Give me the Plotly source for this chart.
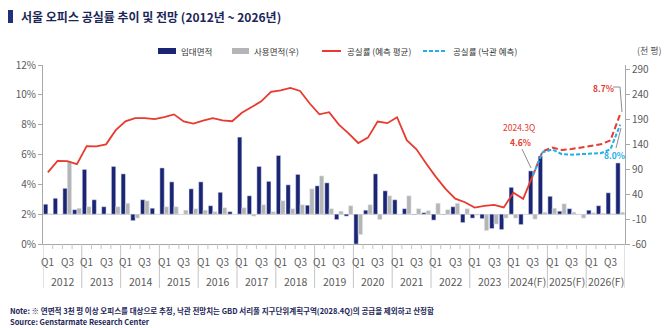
import plotly.graph_objects as go

# ---- data -------------------------------------------------------------
years = [str(y) for y in range(2012, 2024)] + ["2024(F)", "2025(F)", "2026(F)"]
quarter_labels = ["Q1", "", "Q3", ""]
pct_ticks = [0, 2, 4, 6, 8, 10, 12]
area_ticks = [-60, -10, 40, 90, 140, 190, 240, 290]

# 임대면적 (천 평), 2012 Q1 ~ 2026 Q4
leased = [20, 32, 52, 9, 90, 29, 15, 96, 81, -13,
          29, 12, 93, 65, 0, 51, 65, 17, 44, 5,
          155, 37, 96, 66, 118, 59, 80, 18, 57, 63,
          -11, -4, -60, 8, 81, 47, 29, 11, -1, 3,
          -12, -1, 15, -17, -8, -9, -29, -31, 54, -21,
          87, 117, 36, 6, 11, 0, 8, 17, 43, 103]

# 사용면적 (천 평, 우축)
occupied = [1, 0, 105, 12, 15, 1, 1, 15, 22, -8,
            27, 0, 15, 15, 8, 11, 8, 5, 13, 0,
            13, -4, 19, 5, 27, 11, 19, 51, 77, 11,
            6, 17, -41, 19, -11, 37, 0, 37, 11, 7,
            22, 9, 22, 11, -2, -33, -20, -8, -8, 0,
            -10, 4, 12, 21, 4, -8, 3, 2, 1, 4]

# 공실률 (%), 2012 Q1 ~ 2024 Q3
vacancy = [4.8, 5.57, 5.55, 5.35, 6.56, 6.55, 6.68, 7.63, 8.22, 8.44,
           8.44, 8.37, 8.51, 8.69, 8.22, 8.07, 8.27, 8.44, 8.29, 8.23,
           8.8, 9.18, 9.56, 10.2, 10.3, 10.47, 10.26, 9.42, 8.69, 8.84,
           8.0, 7.42, 6.77, 7.13, 8.21, 8.1, 8.5, 6.96, 6.35, 5.4,
           4.5, 3.7, 3.04, 2.8, 2.44, 2.56, 2.62, 2.45, 3.44, 3.03,
           4.6]
# 전망 (2024 Q3 ~ 2026 Q4)
vacancy_avg = [4.6, 6.2, 6.47, 6.3, 6.37, 6.48, 6.56, 6.68, 6.95, 8.7]
vacancy_opt = [4.6, 6.14, 6.34, 6.02, 5.99, 6.02, 6.05, 6.09, 6.35, 8.0]

n = len(leased)
xq = list(range(n))
x_hist = xq[:len(vacancy)]
x_fc = xq[len(vacancy) - 1:]

# ---- styling ----------------------------------------------------------
NAVY = "#1b2573"
GRAY = "#b5b5b5"
RED = "#e63b2e"
CYAN = "#22aee6"
TXT = "#5a5a5a"
AX = "#a8a8a8"
FONT = "Noto Sans CJK KR"

W, H = 670, 328
L, R, T, B = 43, 45, 65, 84
PW, PH = W - L - R, H - T - B


def px(x):
    return (x - L) / PW


def py(y):
    return (H - B - y) / PH


fig = go.Figure()

fig.add_trace(go.Bar(x=xq, y=leased, marker_color=NAVY, yaxis="y",
                     name="임대면적", showlegend=False))
fig.add_trace(go.Bar(x=xq, y=occupied, marker_color=GRAY, yaxis="y",
                     name="사용면적(우)", showlegend=False))

fig.add_trace(go.Scatter(x=x_hist, y=vacancy, mode="lines", yaxis="y2",
                         line=dict(color=RED, width=1.8), showlegend=False))
fig.add_trace(go.Scatter(x=x_fc, y=vacancy_avg, mode="lines", yaxis="y2",
                         line=dict(color=RED, width=2, dash="6px,3px"),
                         showlegend=False))
fig.add_trace(go.Scatter(x=x_fc, y=vacancy_opt, mode="lines", yaxis="y2",
                         line=dict(color=CYAN, width=2, dash="4px,2px"),
                         showlegend=False))

shapes = []
annotations = []

# quarter ticks and year separators under the x axis
for b in range(n + 1):
    year_edge = b % 4 == 0
    shapes.append(dict(type="line", xref="x", yref="paper",
                       x0=b - 0.5, x1=b - 0.5, y0=py(244), y1=py(288 if year_edge else 249),
                       line=dict(color="#c4c4c4", width=1)))

for i in xq:
    t = quarter_labels[i % 4]
    if t:
        annotations.append(dict(x=i, y=py(261), xref="x", yref="paper", text=t,
                                showarrow=False, xanchor="center", yanchor="middle",
                                font=dict(family=FONT, size=10, color=TXT)))
for k, yl in enumerate(years):
    annotations.append(dict(x=4 * k + 1.5, y=py(281), xref="x", yref="paper", text=yl,
                            showarrow=False, xanchor="center", yanchor="middle",
                            font=dict(family=FONT, size=10.5, color=TXT)))

# title
shapes.append(dict(type="rect", xref="paper", yref="paper",
                   x0=px(8), x1=px(13), y0=py(23), y1=py(10),
                   fillcolor="#1f2f7a", line=dict(width=0)))
annotations.append(dict(x=px(19), y=py(16.5), xref="paper", yref="paper",
                        text="<b>서울 오피스 공실률 추이 및 전망 (2012년 ~ 2026년)</b>",
                        showarrow=False, xanchor="left", yanchor="middle",
                        font=dict(family=FONT, size=12, color="#1c2657")))

# legend
LY = 51
shapes.append(dict(type="rect", xref="paper", yref="paper",
                   x0=px(158), x1=px(176), y0=py(54), y1=py(48),
                   fillcolor=NAVY, line=dict(width=0)))
shapes.append(dict(type="rect", xref="paper", yref="paper",
                   x0=px(232), x1=px(249), y0=py(54), y1=py(48),
                   fillcolor=GRAY, line=dict(width=0)))
shapes.append(dict(type="line", xref="paper", yref="paper",
                   x0=px(322), x1=px(341), y0=py(LY), y1=py(LY),
                   line=dict(color=RED, width=2)))
shapes.append(dict(type="line", xref="paper", yref="paper",
                   x0=px(423), x1=px(447), y0=py(LY), y1=py(LY),
                   line=dict(color=CYAN, width=2, dash="4px,2px")))
for x0, txt in [(179, "임대면적"), (252, "사용면적(우)"),
                (345, "공실률 (예측 평균)"), (451, "공실률 (낙관 예측)")]:
    annotations.append(dict(x=px(x0), y=py(LY), xref="paper", yref="paper", text=txt,
                            showarrow=False, xanchor="left", yanchor="middle",
                            font=dict(family=FONT, size=8.5, color="#333333")))
annotations.append(dict(x=px(649), y=py(LY), xref="paper", yref="paper", text="(천 평)",
                        showarrow=False, xanchor="center", yanchor="middle",
                        font=dict(family=FONT, size=9, color=TXT)))

# value callouts
i_now = len(vacancy) - 1
annotations.append(dict(x=px(519), y=py(127), xref="paper", yref="paper", text="2024.3Q",
                        showarrow=False, xanchor="center", yanchor="middle",
                        font=dict(family=FONT, size=8.5, color=RED)))
annotations.append(dict(x=px(520), y=py(142), xref="paper", yref="paper",
                        text=f"<b>{vacancy[i_now]:.1f}%</b>",
                        showarrow=False, xanchor="center", yanchor="middle",
                        font=dict(family=FONT, size=8.5, color=RED)))
shapes.append(dict(type="line", xref="paper", yref="paper",
                   x0=px(522), x1=px(531), y0=py(149), y1=py(168),
                   line=dict(color="#8c8c8c", width=1)))

annotations.append(dict(x=px(603), y=py(88), xref="paper", yref="paper",
                        text=f"<b>{vacancy_avg[-1]:.1f}%</b>",
                        showarrow=False, xanchor="center", yanchor="middle",
                        font=dict(family=FONT, size=8.5, color=RED)))
shapes.append(dict(type="path", xref="paper", yref="paper",
                   path=f"M {px(613)} {py(87)} L {px(620)} {py(87)} L {px(622)} {py(112)}",
                   line=dict(color="#8c8c8c", width=1)))
annotations.append(dict(x=px(614), y=py(155), xref="paper", yref="paper",
                        text=f"<b>{vacancy_opt[-1]:.1f}%</b>",
                        showarrow=False, xanchor="center", yanchor="middle",
                        font=dict(family=FONT, size=8.5, color=CYAN)))
shapes.append(dict(type="line", xref="paper", yref="paper",
                   x0=px(616), x1=px(621), y0=py(148), y1=py(128),
                   line=dict(color="#8c8c8c", width=1)))

# footnotes
annotations.append(dict(x=px(8), y=py(310), xref="paper", yref="paper",
                        text="<b>Note: ※ 연면적 3천 평 이상 오피스를 대상으로 추정, 낙관 전망치는 GBD 서리풀 지구단위계획구역(2028.4Q)의 공급을 제외하고 산정함</b>",
                        showarrow=False, xanchor="left", yanchor="middle",
                        font=dict(family=FONT, size=7.5, color="#1c2657")))
annotations.append(dict(x=px(8), y=py(321), xref="paper", yref="paper",
                        text="<b>Source: Genstarmate Research Center</b>",
                        showarrow=False, xanchor="left", yanchor="middle",
                        font=dict(family=FONT, size=7.5, color="#1c2657")))

fig.update_layout(
    width=W, height=H,
    margin=dict(l=L, r=R, t=T, b=B),
    paper_bgcolor="white", plot_bgcolor="white",
    barmode="group", bargap=0.1, bargroupgap=0,
    showlegend=False,
    font=dict(family=FONT, color=TXT),
    xaxis=dict(range=[-0.5, n - 0.5], showticklabels=False, ticks="",
               showgrid=False, zeroline=False, showline=True,
               linecolor=AX, linewidth=1),
    yaxis=dict(side="right", range=[-60, 300],
               tickmode="array", tickvals=area_ticks,
               ticktext=[str(v) for v in area_ticks],
               showgrid=False, zeroline=True, zerolinecolor="#cfcfcf", zerolinewidth=1,
               showline=True, linecolor=AX, linewidth=1,
               ticks="outside", ticklen=4, tickcolor=AX,
               tickfont=dict(family=FONT, size=10, color=TXT)),
    yaxis2=dict(side="left", overlaying="y", range=[0, 12],
                tickmode="array", tickvals=pct_ticks,
                ticktext=[f"{v}%" for v in pct_ticks],
                showgrid=False, zeroline=False,
                showline=True, linecolor=AX, linewidth=1,
                ticks="outside", ticklen=4, tickcolor=AX,
                tickfont=dict(family=FONT, size=10, color=TXT)),
    shapes=shapes,
    annotations=annotations,
)

fig.write_html("out.html")
